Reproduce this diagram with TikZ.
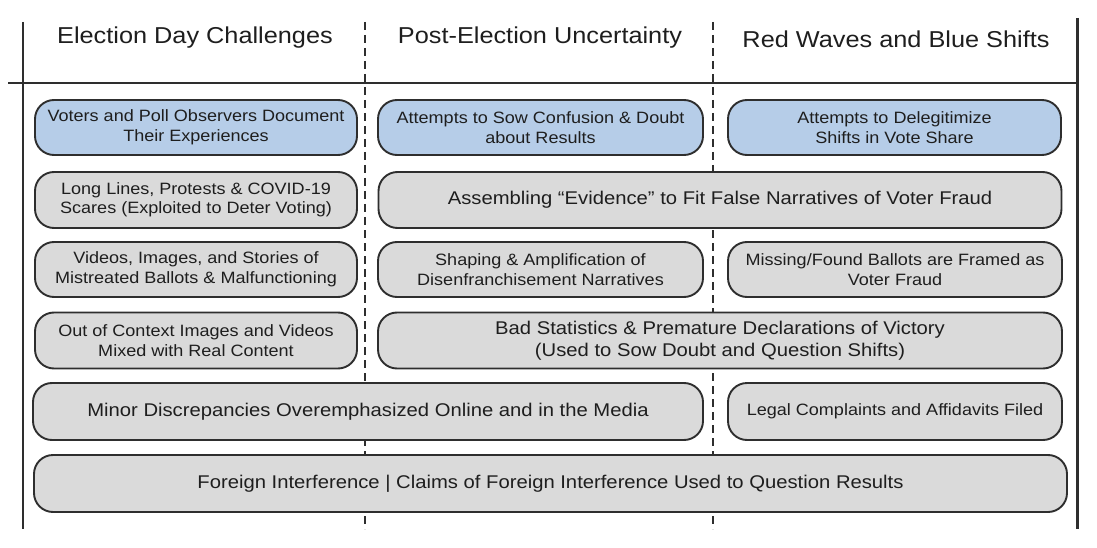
\documentclass[tikz,border=0pt]{standalone}
\usepackage{fontspec}
\setmainfont{Liberation Sans}[FakeStretch=1.1]
\definecolor{boxblue}{HTML}{B6CDE8}
\definecolor{boxgray}{HTML}{DADADA}
\definecolor{edge}{HTML}{2E2E2E}
\definecolor{ink}{HTML}{1E1E1E}
\tikzset{
  card/.style={draw=edge, line width=1.9pt, rounded corners=19pt, text=ink, align=center, inner sep=0pt},
  bluecard/.style={card, fill=boxblue},
  graycard/.style={card, fill=boxgray},
  smalltxt/.style={font=\fontsize{16.4}{19.5}\selectfont},
  bigtxt/.style={font=\fontsize{18.4}{22}\selectfont},
  headtxt/.style={font=\fontsize{23}{27}\selectfont, text=ink},
  sep/.style={draw=edge, line width=1.7pt},
  dashsep/.style={draw=edge, line width=2pt, dash pattern=on 8pt off 5pt},
}
\begin{document}
\begin{tikzpicture}[x=1pt,y=-1pt]
\useasboundingbox (0,0) rectangle (1097,548);
% frame lines
\coordinate (lt) at (23,22); \coordinate (lb) at (23,529);
\coordinate (rt) at (1077,18); \coordinate (rb) at (1077,529);
\coordinate (hl) at (8,83); \coordinate (hr) at (1077,83);
\coordinate (d1t) at (365,22); \coordinate (d1b) at (365,529);
\coordinate (d2t) at (713,22); \coordinate (d2b) at (713,529);
\draw[sep] (lt) -- (lb);
\draw[sep, line width=3pt] (rt) -- (rb);
\draw[sep] (hl) -- (hr);
\draw[dashsep] (d1t) -- (d1b);
\draw[dashsep] (d2t) -- (d2b);
% headers
\node[headtxt] (h1) at (195,38) {Election Day Challenges};
\node[headtxt] (h2) at (540,38) {Post-Election Uncertainty};
\node[headtxt] (h3) at (896,39) {Red Waves and Blue Shifts};
% row 1
\node[bluecard, smalltxt, minimum width=322pt, minimum height=55pt] (a1) at (196,127.5) {Voters and Poll Observers Document\\Their Experiences};
\node[bluecard, smalltxt, minimum width=325pt, minimum height=55pt] (b1) at (540.5,127.5) {Attempts to Sow Confusion \& Doubt\\about Results};
\node[bluecard, smalltxt, minimum width=333pt, minimum height=55pt] (c1) at (894.5,127.5) {Attempts to Delegitimize\\Shifts in Vote Share};
% row 2
\node[graycard, smalltxt, minimum width=322pt, minimum height=56pt] (a2) at (196,200) {Long Lines, Protests \& COVID-19\\Scares (Exploited to Deter Voting)};
\node[graycard, bigtxt, minimum width=683pt, minimum height=56pt] (b2) at (720,200) {Assembling “Evidence” to Fit False Narratives of Voter Fraud};
% row 3
\node[graycard, smalltxt, minimum width=322pt, minimum height=55pt] (a3) at (196,269.5) {Videos, Images, and Stories of\\Mistreated Ballots \& Malfunctioning};
\node[graycard, smalltxt, minimum width=325pt, minimum height=55pt] (b3) at (540.5,269.5) {Shaping \& Amplification of\\Disenfranchisement Narratives};
\node[graycard, smalltxt, minimum width=334pt, minimum height=55pt] (c3) at (895,269.5) {Missing/Found Ballots are Framed as\\Voter Fraud};
% row 4
\node[graycard, smalltxt, minimum width=322pt, minimum height=56pt] (a4) at (196,340.5) {Out of Context Images and Videos\\Mixed with Real Content};
\node[graycard, bigtxt, minimum width=684pt, minimum height=56pt] (b4) at (720,340.5) {Bad Statistics \& Premature Declarations of Victory\\(Used to Sow Doubt and Question Shifts)};
% row 5
\node[graycard, bigtxt, minimum width=670pt, minimum height=57pt] (a5) at (368,411.5) {Minor Discrepancies Overemphasized Online and in the Media};
\node[graycard, smalltxt, minimum width=334pt, minimum height=57pt] (c5) at (895,411.5) {Legal Complaints and Affidavits Filed};
% row 6
\node[graycard, bigtxt, minimum width=1033pt, minimum height=57pt] (a6) at (550.5,483.5) {Foreign Interference | Claims of Foreign Interference Used to Question Results};
\end{tikzpicture}
\end{document}
